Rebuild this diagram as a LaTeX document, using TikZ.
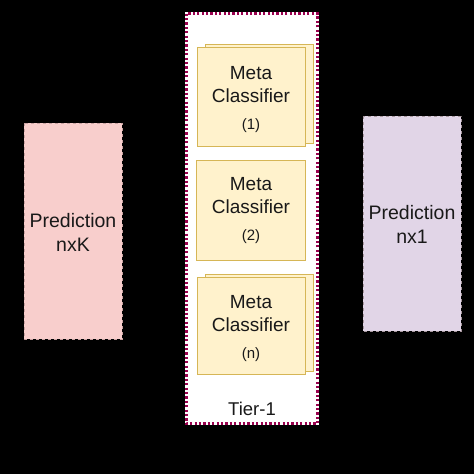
\documentclass[tikz,border=0pt]{standalone}
\usepackage{fontspec}
\setmainfont{Liberation Sans}
\usetikzlibrary{arrows.meta}
\definecolor{pinkfill}{HTML}{F8CECC}
\definecolor{pinkline}{HTML}{C9A3A2}
\definecolor{lilacfill}{HTML}{E1D5E7}
\definecolor{lilacline}{HTML}{A8989F}
\definecolor{metafill}{HTML}{FFF2CC}
\definecolor{metaline}{HTML}{D6B656}
\definecolor{tierline}{HTML}{99004D}
\tikzset{
  predbox/.style={draw, dashed, line width=0.8pt, inner sep=0pt},
  metabox/.style={draw=metaline, fill=metafill, line width=1pt},
  metatext/.style={align=center, font=\fontsize{19}{23}\selectfont, text=black!90},
  arr/.style={draw=black, line width=1pt, -{Latex[length=6pt,width=5pt]}}
}
\begin{document}
\begin{tikzpicture}[x=1pt,y=-1pt]
\useasboundingbox (0,0) rectangle (474,474);
\fill[black] (0,0) rectangle (474,474);
% Tier box
\fill[white] (185,12) rectangle (319,425);
\draw[tierline, line width=2.6pt, dash pattern=on 2.2pt off 2.2pt] (186.5,13.5) rectangle (317.5,423.5);
\coordinate (tierW) at (186,220);
\coordinate (tierE) at (318,220);
% prediction boxes
\draw[predbox, draw=pinkline, fill=pinkfill] (24,123) rectangle (122,339);
\node[font=\fontsize{19.5}{24}\selectfont, align=center, text=black!90] (pk) at (73,232) {Prediction\\nxK};
\coordinate (pkE) at (122,220);
\draw[predbox, draw=lilacline, fill=lilacfill] (363,116) rectangle (461,331);
\node[font=\fontsize{19.5}{24}\selectfont, align=center, text=black!90] (p1) at (412,224) {Prediction\\nx1};
\coordinate (p1W) at (363,220);
% meta 1 (stacked)
\draw[metabox] (205,44) rectangle (313,143);
\draw[metabox] (197,47) rectangle (305,146);
\node[metatext] (m1) at (251,100) {Meta\\Classifier\\[4pt]{\fontsize{15}{18}\selectfont (1)}};
% meta 2
\draw[metabox] (196,160) rectangle (305,260);
\node[metatext] (m2) at (251,211) {Meta\\Classifier\\[4pt]{\fontsize{15}{18}\selectfont (2)}};
% meta n (stacked)
\draw[metabox] (205,274) rectangle (313,371);
\draw[metabox] (197,277) rectangle (305,374);
\node[metatext] (mn) at (251,329) {Meta\\Classifier\\[4pt]{\fontsize{15}{18}\selectfont (n)}};
% tier label
\node[font=\fontsize{18.5}{22}\selectfont, text=black!90] (tier) at (252,409) {Tier-1};
% connectors (black on black)
\draw[arr] (pkE) -- (tierW);
\draw[arr] (tierE) -- (p1W);
\end{tikzpicture}
\end{document}
